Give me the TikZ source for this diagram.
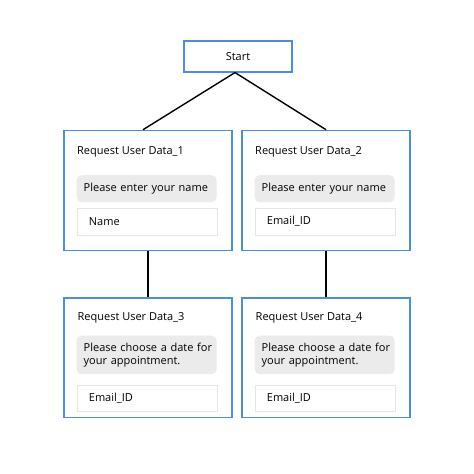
\documentclass[tikz,border=0pt]{standalone}
\usepackage{fontspec}
\setmainfont{Open Sans}
\definecolor{boxblue}{HTML}{4A8FDE}
\definecolor{bubblegrey}{HTML}{EBEBEB}
\definecolor{fieldgrey}{HTML}{E6E6E6}

\begin{document}
\begin{tikzpicture}[x=1pt,y=-1pt,font=\fontsize{11}{13.5}\selectfont]

        \useasboundingbox (0,0) rectangle (474,474);

        \begin{scope}[every node/.style={rectangle,draw=boxblue,line width=1.1pt,fill=white}]
          \node[minimum width=108pt,minimum height=31pt] (start) at (238,56.5) {Start};
          \node[minimum width=168pt,minimum height=120.5pt] (req1) at (148,190.5) {};
          \node[minimum width=168pt,minimum height=120.5pt] (req2) at (326,190.5) {};
          \node[minimum width=168pt,minimum height=119.5pt] (req3) at (148,357.75) {};
          \node[minimum width=168pt,minimum height=119.5pt] (req4) at (326,357.75) {};
        \end{scope}

        % titles
        \begin{scope}[every node/.style={anchor=base west,inner sep=0pt}]
          \node (title1) at (77,154) {Request User Data\_1};
          \node (title2) at (255,154) {Request User Data\_2};
          \node (title3) at (77.5,320.5) {Request User Data\_3};
          \node (title4) at (255.5,320.5) {Request User Data\_4};
        \end{scope}

        % prompts
        \begin{scope}[every node/.style={anchor=north west,fill=bubblegrey,rounded corners=5pt,
            inner xsep=7pt,text width=126pt,align=left}]
          \node[minimum height=27pt] (ask1) at (76.5,175) {Please enter your name};
          \node[minimum height=27pt] (ask2) at (254.5,175) {Please enter your name};
          \node[minimum height=38.5pt] (ask3) at (76.5,335.5) {\mbox{Please choose a date for}\\\mbox{your appointment.}};
          \node[minimum height=38.5pt] (ask4) at (254.5,335.5) {\mbox{Please choose a date for}\\\mbox{your appointment.}};
        \end{scope}

        % input fields
        \begin{scope}[every node/.style={anchor=north west,draw=fieldgrey,line width=0.8pt,
            minimum height=26.5pt,inner xsep=12pt,text width=116pt,align=left}]
          \node (field1) at (76.5,208) {Name};
          \node (field2) at (254.5,208) {Email\_ID};
          \node (field3) at (76.5,384.5) {Email\_ID};
          \node (field4) at (254.5,384.5) {Email\_ID};
        \end{scope}

        \begin{scope}[line width=1.4pt]
          \path ([xshift=-3pt]start.south) edge[draw] ([xshift=-5pt]req1.north);
          \path ([xshift=-3pt]start.south) edge[draw] (req2.north);
          \path (req1) edge[draw] (req3);
          \path (req2) edge[draw] (req4);
        \end{scope}

      \end{tikzpicture}
\end{document}
